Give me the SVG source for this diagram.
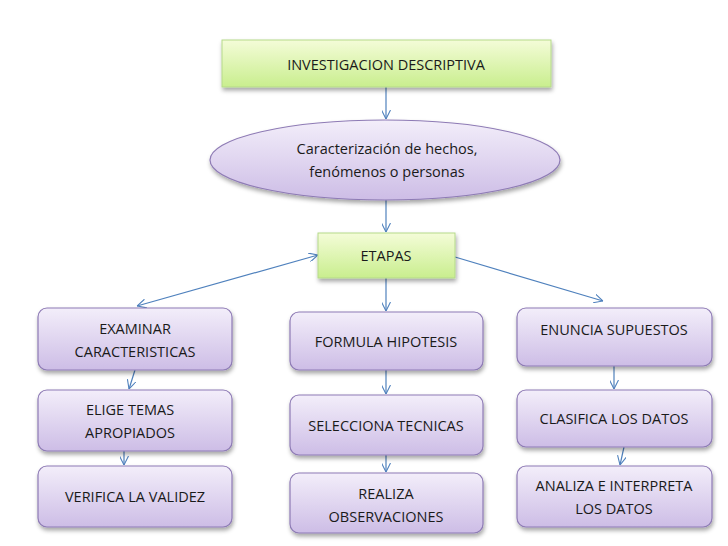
<svg xmlns="http://www.w3.org/2000/svg" width="728" height="546" viewBox="0 0 728 546">
<defs>
<linearGradient id="g" x1="0" y1="0" x2="0" y2="1"><stop offset="0" stop-color="#f4fcd8"/><stop offset="1" stop-color="#c9ee8e"/></linearGradient>
<linearGradient id="p" x1="0" y1="0" x2="0" y2="1"><stop offset="0" stop-color="#f3eefa"/><stop offset="1" stop-color="#cdbde6"/></linearGradient>
<filter id="s" x="-10%" y="-10%" width="130%" height="140%"><feDropShadow dx="1" dy="3" stdDeviation="2" flood-opacity="0.35"/></filter>
<marker id="a" viewBox="0 0 10 10" refX="10" refY="5" markerWidth="9" markerHeight="9" orient="auto-start-reverse" markerUnits="userSpaceOnUse"><path d="M0,0 L10,5 L0,10" fill="none" stroke="#4f81bd" stroke-width="1.2"/></marker>
<style>
.gr{fill:url(#g);stroke:#b5d98a;stroke-width:1;filter:url(#s)}
.pu{fill:url(#p);stroke:#8e7bb5;stroke-width:1.2;filter:url(#s)}
text{font-family:"Open Sans","Liberation Sans",sans-serif;font-size:14.5px;fill:#1a1a1a;text-anchor:middle}
.c line{stroke:#4f81bd;stroke-width:1.2;marker-end:url(#a)}
</style>
</defs>
<g class="c">
<line x1="386" y1="87" x2="386" y2="119"/>
<line x1="386" y1="200" x2="386" y2="232"/>
<line x1="137" y1="306" x2="318" y2="255" marker-start="url(#a)"/>
<line x1="455" y1="257" x2="603" y2="301"/>
<line x1="386" y1="278" x2="386" y2="311"/>
<line x1="135" y1="370" x2="129" y2="389"/>
<line x1="124" y1="451" x2="124" y2="465"/>
<line x1="386" y1="370" x2="386" y2="394"/>
<line x1="386" y1="455" x2="386" y2="472"/>
<line x1="614" y1="366" x2="614" y2="389"/>
<line x1="624" y1="447" x2="620" y2="465"/>
</g>
<g id="n1"><rect class="gr" x="222" y="40" width="329" height="47"/><text x="386" y="70">INVESTIGACION DESCRIPTIVA</text></g>
<g id="n2"><ellipse class="pu" cx="385" cy="160" rx="175" ry="40"/><text x="387" y="154">Caracterización de hechos,</text><text x="387" y="177">fenómenos o personas</text></g>
<g id="n3"><rect class="gr" x="318" y="233" width="137" height="45"/><text x="386" y="261">ETAPAS</text></g>
<g id="n4"><rect class="pu" x="38" y="308" width="194" height="62" rx="9"/><text x="135" y="334">EXAMINAR</text><text x="135" y="357">CARACTERISTICAS</text></g>
<g id="n5"><rect class="pu" x="38" y="390" width="194" height="61" rx="9"/><text x="130" y="415">ELIGE TEMAS</text><text x="130" y="438">APROPIADOS</text></g>
<g id="n6"><rect class="pu" x="38" y="466" width="194" height="61" rx="9"/><text x="135" y="502">VERIFICA LA VALIDEZ</text></g>
<g id="n7"><rect class="pu" x="290" y="312" width="193" height="58" rx="9"/><text x="386" y="347">FORMULA HIPOTESIS</text></g>
<g id="n8"><rect class="pu" x="290" y="395" width="193" height="60" rx="9"/><text x="386" y="431">SELECCIONA TECNICAS</text></g>
<g id="n9"><rect class="pu" x="290" y="473" width="193" height="60" rx="9"/><text x="386" y="499">REALIZA</text><text x="386" y="522">OBSERVACIONES</text></g>
<g id="n10"><rect class="pu" x="517" y="308" width="195" height="58" rx="9"/><text x="614" y="335">ENUNCIA SUPUESTOS</text></g>
<g id="n11"><rect class="pu" x="517" y="390" width="195" height="57" rx="9"/><text x="614" y="424">CLASIFICA LOS DATOS</text></g>
<g id="n12"><rect class="pu" x="517" y="466" width="195" height="61" rx="9"/><text x="614" y="491">ANALIZA E INTERPRETA</text><text x="614" y="514">LOS DATOS</text></g>
</svg>
